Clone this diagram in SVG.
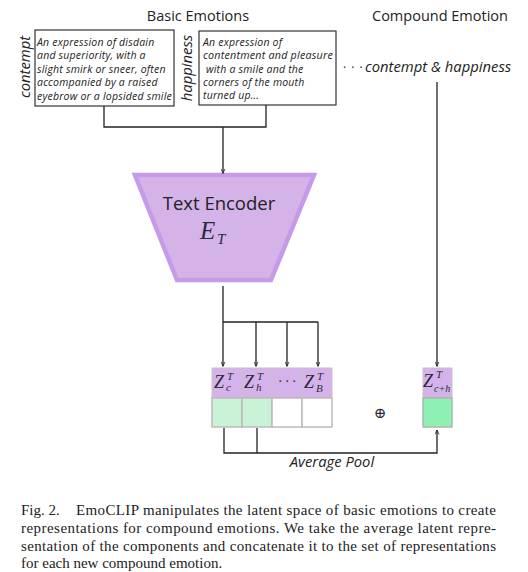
<svg xmlns="http://www.w3.org/2000/svg" width="528" height="572" viewBox="0 0 528 572">
<defs>
<marker id="arr" viewBox="0 0 10 10" refX="9" refY="5" markerWidth="5" markerHeight="5" orient="auto" markerUnits="userSpaceOnUse">
<path d="M0,1 L10,5 L0,9" fill="none" stroke="#222" stroke-width="1.6"/>
</marker>
<style>
.sans{font-family:"Open Sans","Noto Sans","DejaVu Sans",sans-serif;fill:#222}
.desc{font-family:"Open Sans","Noto Sans","DejaVu Sans",sans-serif;font-style:italic;font-size:10.5px;letter-spacing:0.2px;fill:#222}
.lab{font-family:"Open Sans","Noto Sans","DejaVu Sans",sans-serif;font-style:italic;font-size:14.8px;fill:#222}
.box{fill:#fff;stroke:#333;stroke-width:1.2}
.math{font-family:"Liberation Serif","DejaVu Serif",serif;font-style:italic;fill:#2a2a3a}
.cap{font-family:"Liberation Serif","Times New Roman",serif;font-size:15px;fill:#222}
.line{fill:none;stroke:#222;stroke-width:1.3}
.cp{fill:#d5b3ea;stroke:#c8c0cc;stroke-width:1}
.cg{fill:#c9f2d6;stroke:#bbbbbb;stroke-width:1.5}
.cw{fill:#ffffff;stroke:#bbbbbb;stroke-width:1.5}
</style>
</defs>
<rect width="528" height="572" fill="#fff"/>

<text class="sans" x="198" y="21" font-size="14.5" text-anchor="middle">Basic Emotions</text>
<text class="sans" x="440" y="21" font-size="14.5" text-anchor="middle">Compound Emotion</text>

<g id="contempt">
<rect class="box" x="35" y="30" width="139" height="76"/>
<text class="lab" transform="translate(30,67) rotate(-90)" text-anchor="middle">contempt</text>
<text class="desc" x="37" y="46">An expression of disdain</text>
<text class="desc" x="37" y="59">and superiority, with a</text>
<text class="desc" x="37" y="73">slight smirk or sneer, often</text>
<text class="desc" x="37" y="86">accompanied by a raised</text>
<text class="desc" x="37" y="100" textLength="135" lengthAdjust="spacingAndGlyphs">eyebrow or a lopsided smile</text>
</g>

<g id="happiness">
<rect class="box" x="199" y="31" width="137" height="74"/>
<text class="lab" transform="translate(192,68) rotate(-90)" text-anchor="middle">happiness</text>
<text class="desc" x="203" y="46">An expression of</text>
<text class="desc" x="203" y="59" textLength="130" lengthAdjust="spacingAndGlyphs">contentment and pleasure</text>
<text class="desc" x="206" y="73">with a smile and the</text>
<text class="desc" x="203" y="86">corners of the mouth</text>
<text class="desc" x="203" y="99">turned up...</text>
</g>

<g id="compound-label">
<text class="sans" x="343" y="72" font-size="12" letter-spacing="1">· · ·</text>
<text class="lab" x="365" y="72">contempt &amp; happiness</text>
</g>

<g id="encoder">
<polygon points="135,175 314,175 271,280 177,280" fill="#d4b4e8" stroke="#c69ae8" stroke-width="4.5" stroke-linejoin="miter"/>
<text class="sans" x="219" y="210" font-size="18.5" text-anchor="middle">Text Encoder</text>
<text class="math" x="200" y="239" font-size="25">E</text>
<text class="math" x="217" y="244" font-size="15">T</text>
</g>

<g id="basic-latents">
<rect class="cp" x="212" y="368" width="30" height="30"/>
<rect class="cp" x="242" y="368" width="30" height="30"/>
<rect class="cp" x="272" y="368" width="30" height="30"/>
<rect class="cp" x="302" y="368" width="30" height="30"/>
<rect class="cg" x="212" y="398" width="30" height="29"/>
<rect class="cg" x="242" y="398" width="30" height="29"/>
<rect class="cw" x="272" y="398" width="30" height="29"/>
<rect class="cw" x="302" y="398" width="30" height="29"/>
<text class="math" x="214" y="388" font-size="18">Z</text>
<text class="math" x="227" y="380" font-size="11">T</text>
<text class="math" x="226" y="391" font-size="11">c</text>
<text class="math" x="244" y="388" font-size="18">Z</text>
<text class="math" x="257" y="380" font-size="11">T</text>
<text class="math" x="256" y="391" font-size="11">h</text>
<text class="math" x="287" y="386" font-size="14" text-anchor="middle" font-style="normal">· · ·</text>
<text class="math" x="304" y="388" font-size="18">Z</text>
<text class="math" x="317" y="380" font-size="11">T</text>
<text class="math" x="316" y="392" font-size="11">B</text>
</g>

<g id="compound-latent">
<rect class="cp" x="423" y="368" width="29" height="30"/>
<rect x="423" y="398" width="29" height="29" fill="#8ef0b2" stroke="#aab8aa" stroke-width="1.5"/>
<text class="math" x="423" y="387" font-size="18">Z</text>
<text class="math" x="436" y="378" font-size="11">T</text>
<text class="math" x="434" y="392" font-size="10">c+h</text>
</g>

<g id="concat">
<text class="math" x="380" y="418" font-size="15" text-anchor="middle" font-style="normal" fill="#555">⊕</text>
</g>

<g id="connectors">
<path class="line" d="M104,106 V127 H266 V105"/>
<path class="line" d="M223,127 V173" marker-end="url(#arr)"/>
<path class="line" d="M223,286 V366" marker-end="url(#arr)"/>
<path class="line" d="M223,322 H318"/>
<path class="line" d="M256,322 V366" marker-end="url(#arr)"/>
<path class="line" d="M287,322 V366" marker-end="url(#arr)"/>
<path class="line" d="M318,322 V366" marker-end="url(#arr)"/>
<path class="line" d="M437,82 V366" marker-end="url(#arr)"/>
<path class="line" d="M224,428 V453 H437 V430" marker-end="url(#arr)"/>
<path class="line" d="M257,428 V453"/>
</g>

<text class="lab" x="332" y="467" font-size="13.5" text-anchor="middle">Average Pool</text>

<g id="caption">
<text class="cap" x="21" y="515">Fig. 2.</text>
<text class="cap" x="76" y="515" textLength="420" lengthAdjust="spacing">EmoCLIP manipulates the latent space of basic emotions to create</text>
<text class="cap" x="21" y="533" textLength="475" lengthAdjust="spacing">representations for compound emotions. We take the average latent repre-</text>
<text class="cap" x="21" y="551" textLength="475" lengthAdjust="spacing">sentation of the components and concatenate it to the set of representations</text>
<text class="cap" x="21" y="568">for each new compound emotion.</text>
</g>
</svg>
